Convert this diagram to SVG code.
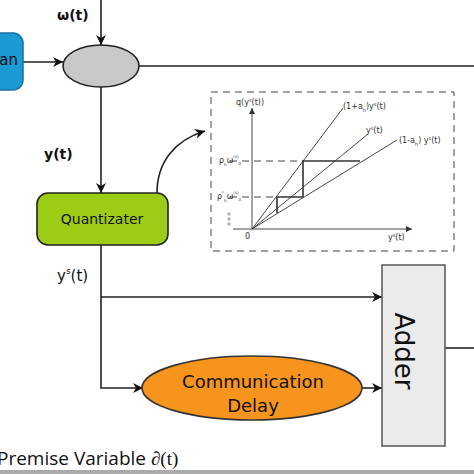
<svg xmlns="http://www.w3.org/2000/svg" width="474" height="474" viewBox="0 0 474 474">
<defs>
<style>
.c{fill:none;stroke:#222;stroke-width:1.6}
.g{fill:none;stroke:#333;stroke-width:0.9}
.gt{fill:none;stroke:#333;stroke-width:1.6}
.d{fill:none;stroke:#444;stroke-width:1;stroke-dasharray:7 5}
.lab{font-family:"DejaVu Sans",sans-serif;fill:#111}
.sm{font-family:"DejaVu Sans",sans-serif;font-size:8px;fill:#333}
</style>
<marker id="ah" viewBox="0 0 10 10" refX="10" refY="5" markerWidth="10" markerHeight="10" markerUnits="userSpaceOnUse" orient="auto">
<path d="M0,0 L10,5 L0,10 L3,5 z" fill="#111"/>
</marker>
<marker id="sa" viewBox="0 0 10 10" refX="10" refY="5" markerWidth="6" markerHeight="6" markerUnits="userSpaceOnUse" orient="auto">
<path d="M0,0 L10,5 L0,10 z" fill="#333"/>
</marker>
</defs>
<rect width="474" height="474" fill="#fff"/>

<g id="connectors">
<line class="c" x1="101" y1="0" x2="101" y2="45" marker-end="url(#ah)"/>
<line class="c" x1="23" y1="62" x2="63" y2="62" marker-end="url(#ah)"/>
<line class="c" x1="139" y1="66" x2="474" y2="66"/>
<line class="c" x1="101" y1="87" x2="101" y2="193" marker-end="url(#ah)"/>
<path class="c" d="M101,245 V388 H143" marker-end="url(#ah)"/>
<line class="c" x1="101" y1="297" x2="382" y2="297" marker-end="url(#ah)"/>
<line class="c" x1="362" y1="388" x2="382" y2="388" marker-end="url(#ah)"/>
<line class="c" x1="445" y1="348" x2="474" y2="348"/>
<path class="c" d="M157,193 C157,162 175,140 205,131" stroke-width="2" marker-end="url(#ah)"/>
</g>

<g id="plan">
<rect x="-20" y="33" width="43" height="57" rx="10" fill="#1b9ad6" stroke="#1670a8" stroke-width="1.5"/>
<text class="lab" x="18" y="65" font-size="15" text-anchor="end">an</text>
</g>

<g id="sum">
<ellipse cx="101" cy="66" rx="38" ry="21" fill="#c8c8c8" stroke="#222" stroke-width="1.6"/>
</g>

<g id="quantizater">
<rect x="37" y="193" width="131" height="52" rx="11" fill="#9ccc16" stroke="#222" stroke-width="1.6"/>
<text class="lab" x="102" y="224" font-size="14" text-anchor="middle">Quantizater</text>
</g>

<g id="delay">
<ellipse cx="252" cy="388" rx="110" ry="32" fill="#f7941d" stroke="#333" stroke-width="1.6"/>
<text class="lab" x="253" y="388" font-size="18" text-anchor="middle">Communication</text>
<text class="lab" x="253" y="412" font-size="18" text-anchor="middle">Delay</text>
</g>

<g id="adder">
<rect x="382" y="265" width="63" height="181" fill="#ebebeb" stroke="#555" stroke-width="1.5"/>
<text class="lab" x="0" y="0" font-size="26" text-anchor="middle" dominant-baseline="central" transform="translate(404,351) rotate(90)">Adder</text>
</g>

<g id="labels">
<text class="lab" x="57" y="20" font-size="14" font-weight="bold">ω(t)</text>
<text class="lab" x="44" y="159" font-size="14" font-weight="bold">y(t)</text>
<text class="lab" x="57" y="281" font-size="15">y<tspan font-size="9" dy="-7">s</tspan><tspan dy="7">(t)</tspan></text>
<text x="-3" y="465" font-size="19" fill="#111" font-family="'Open Sans','DejaVu Sans',sans-serif">Premise Variable <tspan font-family="'Liberation Serif',serif" font-style="italic">∂</tspan><tspan font-family="'Liberation Serif',serif">(t)</tspan></text>
</g>
<rect x="0" y="470" width="474" height="4" fill="#aaa"/>

<g id="quantizer-graph">
<rect class="d" x="211" y="92" width="243" height="159"/>
<line class="g" x1="252" y1="229" x2="252" y2="108" marker-end="url(#sa)"/>
<line class="g" x1="233" y1="229" x2="412" y2="229" marker-end="url(#sa)"/>
<line class="g" x1="252" y1="229" x2="343" y2="108"/>
<line class="g" x1="252" y1="229" x2="368" y2="134"/>
<line class="g" x1="252" y1="229" x2="397" y2="140"/>
<line class="d" x1="230" y1="161" x2="303" y2="161"/>
<line class="d" x1="230" y1="197" x2="277" y2="197"/>
<path class="gt" d="M360,161 H303 V197 H277 V213"/>
<text class="sm" x="236" y="105">q(y<tspan font-size="5" dy="-3">s</tspan><tspan dy="3">(t))</tspan></text>
<text class="sm" x="343" y="109">(1+a<tspan font-size="5" dy="3">h</tspan><tspan dy="-3">)y</tspan><tspan font-size="5" dy="-3">s</tspan><tspan dy="3">(t)</tspan></text>
<text class="sm" x="366" y="133">y<tspan font-size="5" dy="-3">s</tspan><tspan dy="3">(t)</tspan></text>
<text class="sm" x="399" y="143">(1-a<tspan font-size="5" dy="3">h</tspan><tspan dy="-3">) y</tspan><tspan font-size="5" dy="-3">s</tspan><tspan dy="3">(t)</tspan></text>
<text class="sm" x="245" y="239">0</text>
<text class="sm" x="388" y="240">y<tspan font-size="5" dy="-3">s</tspan><tspan dy="3">(t)</tspan></text>
<text class="sm" x="219" y="163">ρ<tspan font-size="4" dy="3">h</tspan><tspan dy="-3">ω</tspan><tspan font-size="4" dy="-5">(s)</tspan><tspan font-size="4" dy="7">0</tspan></text>
<text class="sm" x="217" y="199">ρ<tspan font-size="4" dy="-5">*</tspan><tspan font-size="4" dy="8">h</tspan><tspan dy="-3">ω</tspan><tspan font-size="4" dy="-5">(s)</tspan><tspan font-size="4" dy="7">0</tspan></text>
<circle cx="229" cy="214" r="1.2" fill="none" stroke="#555" stroke-width="0.6"/>
<circle cx="229" cy="219" r="1.2" fill="none" stroke="#555" stroke-width="0.6"/>
<circle cx="229" cy="224" r="1.2" fill="none" stroke="#555" stroke-width="0.6"/>
</g>
</svg>
